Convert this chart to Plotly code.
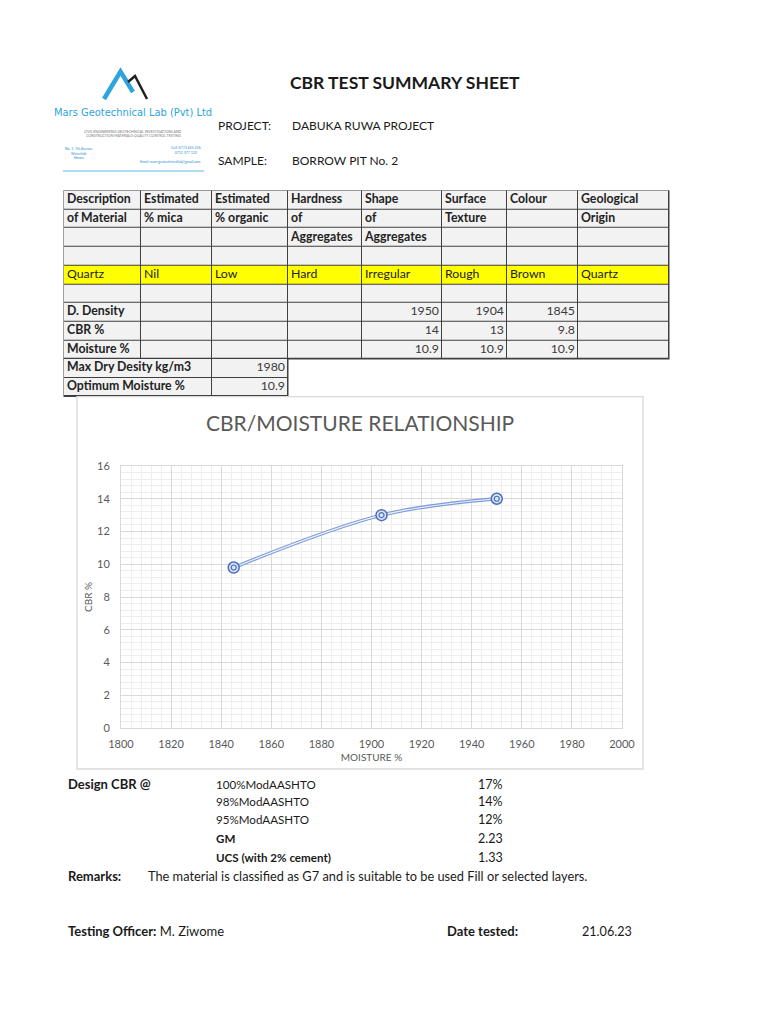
import plotly.graph_objects as go

W, H = 768, 1024
FONT = "Lato, 'Noto Sans', sans-serif"
TXT = '#1a1a1a'
GREY = '#595959'


def fx(x):
    return x / W


def fy(y):
    return 1 - y / H


# sample results (also plotted)
dry_density = [1950, 1904, 1845]
cbr_values = [14, 13, 9.8]
moisture_values = [10.9, 10.9, 10.9]

# summary table
header_1 = ['Description', 'Estimated', 'Estimated', 'Hardness', 'Shape', 'Surface', 'Colour', 'Geological']
header_2 = ['of Material', '% mica', '% organic', 'of', 'of', 'Texture', '', 'Origin']
header_3 = ['', '', '', 'Aggregates', 'Aggregates', '', '', '']
material = ['Quartz', 'Nil', 'Low', 'Hard', 'Irregular', 'Rough', 'Brown', 'Quartz']
row_labels = ['D. Density', 'CBR %', 'Moisture %']
extra_labels = ['Max Dry Desity kg/m3', 'Optimum Moisture %']
extra_values = [1980, 10.9]

# design values
design_labels = ['100%ModAASHTO', '98%ModAASHTO', '95%ModAASHTO', 'GM', 'UCS (with 2% cement)']
design_values = ['17%', '14%', '12%', '2.23', '1.33']

# table geometry (page pixels)
COL_EDGES = [64, 141, 212, 288, 362, 442, 507, 578, 669]
EXTRA_EDGES = [64, 212, 288]
TOP = 190.7
ROW_H = 18.7
PAD = 3

blank = [''] * 8


def bold(row):
    return ['<b>%s</b>' % v if v else '' for v in row]


def num_row(label, vals):
    return ['<b>%s</b>' % label, '', '', ''] + [str(v) for v in vals] + ['']


rows = [bold(header_1), bold(header_2), bold(header_3), blank, material, blank,
        num_row(row_labels[0], dry_density),
        num_row(row_labels[1], cbr_values),
        num_row(row_labels[2], moisture_values)]
n_rows = len(rows)
row_edges = [TOP + ROW_H * k for k in range(n_rows + 1)]
extra_edges_y = [row_edges[-1] + ROW_H * k for k in range(3)]
# 1 marks the highlighted (yellow) material row
cell_code = [[1 if r == 4 else 0 for c in range(8)] for r in range(n_rows)]

fig = go.Figure()

hm = dict(colorscale=[[0, '#f2f2f2'], [1, '#ffff00']], zmin=0, zmax=1, showscale=False,
          xgap=1, ygap=1, hoverinfo='skip', xaxis='x2', yaxis='y2')
fig.add_trace(go.Heatmap(x=COL_EDGES, y=row_edges, z=cell_code, **hm))
fig.add_trace(go.Heatmap(x=EXTRA_EDGES, y=extra_edges_y, z=[[0, 0], [0, 0]], **hm))

lx, ly, lt, rx, ry, rt = [], [], [], [], [], []
for r, row in enumerate(rows):
    yc = (row_edges[r] + row_edges[r + 1]) / 2
    for c, v in enumerate(row):
        if not v:
            continue
        if r >= 6 and 4 <= c <= 6:
            rx.append(COL_EDGES[c + 1] - PAD)
            ry.append(yc)
            rt.append(v)
        else:
            lx.append(COL_EDGES[c] + PAD)
            ly.append(yc)
            lt.append(v)
for k in range(2):
    yc = (extra_edges_y[k] + extra_edges_y[k + 1]) / 2
    lx.append(EXTRA_EDGES[0] + PAD)
    ly.append(yc)
    lt.append('<b>%s</b>' % extra_labels[k])
    rx.append(EXTRA_EDGES[2] - PAD)
    ry.append(yc)
    rt.append(str(extra_values[k]))

tfont = dict(family=FONT, size=12.3, color='#222222')
fig.add_trace(go.Scatter(x=lx, y=ly, text=lt, mode='text', textposition='middle right',
                         textfont=tfont, hoverinfo='skip', xaxis='x2', yaxis='y2'))
fig.add_trace(go.Scatter(x=rx, y=ry, text=rt, mode='text', textposition='middle left',
                         textfont=dict(family=FONT, size=12.3, color='#3a3a3a'),
                         hoverinfo='skip', xaxis='x2', yaxis='y2'))

# CBR curve (double line look)
fig.add_trace(go.Scatter(x=dry_density, y=cbr_values, mode='lines',
                         line=dict(color='#7e9dd8', width=3.5, shape='spline'), hoverinfo='skip'))
fig.add_trace(go.Scatter(x=dry_density, y=cbr_values, mode='lines',
                         line=dict(color='#eef2fb', width=1.2, shape='spline'), hoverinfo='skip'))
fig.add_trace(go.Scatter(x=dry_density, y=cbr_values, mode='markers',
                         marker=dict(symbol='circle', size=11, color='#dbe4f6',
                                     line=dict(color='#4a6fbf', width=1.5))))
fig.add_trace(go.Scatter(x=dry_density, y=cbr_values, mode='markers',
                         marker=dict(symbol='circle-open', size=5, color='#4a6fbf',
                                     line=dict(color='#4a6fbf', width=1.2))))

axis_common = dict(showgrid=True, gridcolor='#d9d9d9', gridwidth=1, zeroline=False,
                   showline=True, linecolor='#d9d9d9', linewidth=1, mirror=True,
                   tickfont=dict(family=FONT, size=11, color=GREY), automargin=False,
                   ticks='outside', tickcolor='rgba(0,0,0,0)', fixedrange=True)

fig.update_layout(
    xaxis=dict(domain=[fx(121), fx(622)], range=[1800, 2000], tick0=1800, dtick=20, ticklen=6,
               minor=dict(dtick=4, showgrid=True, gridcolor='#eeeeee'),
               title=dict(text='MOISTURE %', font=dict(family=FONT, size=10, color=GREY), standoff=4),
               **axis_common),
    yaxis=dict(domain=[fy(728), fy(466)], range=[0, 16], dtick=2, ticklen=8,
               minor=dict(dtick=0.4, showgrid=True, gridcolor='#eeeeee'),
               title=dict(text='CBR %', font=dict(family=FONT, size=10, color=GREY), standoff=2),
               **axis_common),
    xaxis2=dict(domain=[fx(60), fx(673)], range=[60, 673], visible=False, fixedrange=True),
    yaxis2=dict(domain=[fy(400), fy(186)], range=[400, 186], visible=False, fixedrange=True),
)

dark = '#404040'
shapes = [
    # table borders show through the cell gaps
    dict(type='rect', xref='x2', yref='y2', x0=COL_EDGES[0] - 0.5, x1=COL_EDGES[-1] + 0.5,
         y0=row_edges[0] - 0.5, y1=row_edges[-1] + 0.5, fillcolor=dark, line=dict(width=0), layer='below'),
    dict(type='rect', xref='x2', yref='y2', x0=EXTRA_EDGES[0] - 0.5, x1=EXTRA_EDGES[-1] + 0.5,
         y0=extra_edges_y[0] - 0.5, y1=extra_edges_y[-1] + 0.5, fillcolor=dark, line=dict(width=0),
         layer='below'),
    # chart frame
    dict(type='rect', xref='paper', yref='paper', x0=fx(77), x1=fx(643), y0=fy(769), y1=fy(396.6),
         line=dict(color='#d9d9d9', width=1.3), layer='above'),
    # logo peaks
    dict(type='path', xref='paper', yref='paper',
         path='M %f %f L %f %f L %f %f' % (fx(104), fy(99), fx(120.5), fy(71.5), fx(133), fy(92)),
         line=dict(color='#2da4de', width=4.5)),
    dict(type='path', xref='paper', yref='paper',
         path='M %f %f L %f %f L %f %f' % (fx(128), fy(82), fx(135), fy(76), fx(147), fy(99)),
         line=dict(color='#222222', width=2.5)),
    dict(type='line', xref='paper', yref='paper', x0=fx(63), x1=fx(204), y0=fy(171), y1=fy(171),
         line=dict(color='#5bb8e6', width=1)),
]


def note(text, x, y, size=12.5, anchor='left', color=TXT, family=FONT):
    return dict(text=text, x=fx(x), y=fy(y), xref='paper', yref='paper', showarrow=False,
                xanchor=anchor, yanchor='middle', font=dict(family=family, size=size, color=color))


ann = [
    note('<b>CBR TEST SUMMARY SHEET</b>', 405, 82, size=17.5, anchor='center'),
    note('PROJECT:', 216, 125, size=12),
    note('DABUKA RUWA PROJECT', 290, 125, size=12),
    note('SAMPLE:', 216, 160, size=12),
    note('BORROW PIT No. 2', 290, 160, size=12),
    note('Mars Geotechnical Lab (Pvt) Ltd', 133, 112, size=11, anchor='center', color='#2da4de',
         family="'Liberation Sans Narrow', 'DejaVu Sans Condensed', sans-serif"),
    note('CIVIL ENGINEERING GEOTECHNICAL INVESTIGATIONS AND', 133, 132, size=3.5, anchor='center', color='#777'),
    note('CONSTRUCTION MATERIALS QUALITY CONTROL TESTING', 133, 136, size=3.5, anchor='center', color='#777'),
    note('No. 1, 7th Avenue<br>Waterfalls<br>Harare', 63, 153, size=3.5, color='#2d8fd0'),
    note('Cell: 0773 445 236<br>0712 377 123', 203, 150, size=3.5, anchor='right', color='#2d8fd0'),
    note('Email: mars.geotechnicallab@gmail.com', 203, 162, size=3.5, anchor='right', color='#2d8fd0'),
    note('CBR/MOISTURE RELATIONSHIP', 360, 422, size=21, anchor='center', color=GREY),
    note('<b>Design CBR @</b>', 66, 784, size=13),
]
label_y = [784, 801, 819, 838, 857]
for i, (lab, val) in enumerate(zip(design_labels, design_values)):
    ann.append(note('<b>%s</b>' % lab if i >= 3 else lab, 214, label_y[i], size=11.6))
    ann.append(note(val, 505, label_y[i], size=12.5, anchor='right'))
ann += [
    note('<b>Remarks:</b>', 66, 876, size=13),
    note('The material is classified as G7 and is suitable to be used Fill or selected layers.', 146, 876,
         size=12.8),
    note('<b>Testing Officer:</b> M. Ziwome', 66, 931, size=13),
    note('<b>Date tested:</b>', 445, 931, size=13),
    note('21.06.23', 580, 931, size=12.6),
]

fig.update_layout(width=W, height=H, margin=dict(l=0, r=0, t=0, b=0),
                  paper_bgcolor='white', plot_bgcolor='white', showlegend=False,
                  shapes=shapes, annotations=ann)

fig.write_html('out.html', config={'displayModeBar': False},
               post_script="document.body.style.margin='0';document.body.style.overflow='hidden';")
